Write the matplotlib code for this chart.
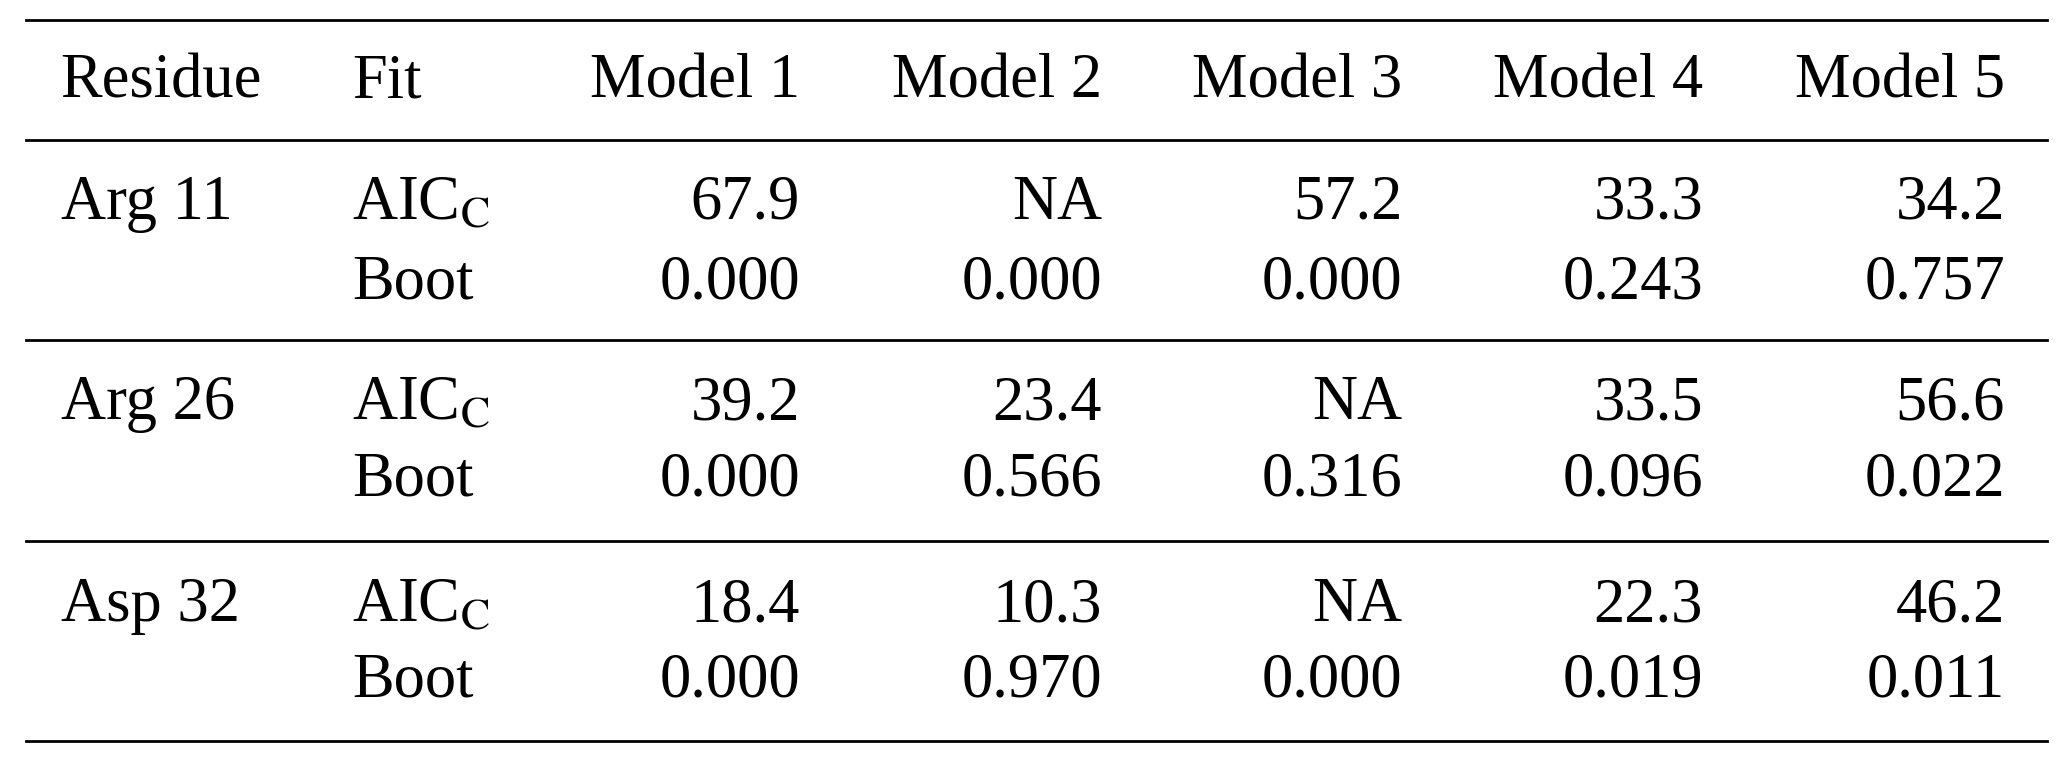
import matplotlib
matplotlib.use("Agg")
import matplotlib.pyplot as plt

header = ["Residue", "Fit", "Model 1", "Model 2", "Model 3", "Model 4", "Model 5"]
residues = ["Arg 11", "Arg 26", "Asp 32"]
aic = [["67.9", "NA", "57.2", "33.3", "34.2"],
       ["39.2", "23.4", "NA", "33.5", "56.6"],
       ["18.4", "10.3", "NA", "22.3", "46.2"]]
boot = [["0.000", "0.000", "0.000", "0.243", "0.757"],
        ["0.000", "0.566", "0.316", "0.096", "0.022"],
        ["0.000", "0.970", "0.000", "0.019", "0.011"]]

plt.rcParams['font.family'] = ['Liberation Serif', 'DejaVu Serif']
plt.rcParams['mathtext.fontset'] = 'stix'
W, H = 1568, 577
fig = plt.figure(figsize=(20.67, 7.61), dpi=100)
ax = fig.add_axes([0, 0, 1, 1])
ax.set_xlim(0, W); ax.set_ylim(H, 0); ax.axis('off')
fs = 45
off = 16
left_x = [46, 267]
right_x = [607, 836, 1064, 1292, 1521]

def t(x, y, s, ha):
    ax.text(x, y + off, s, fontsize=fs, va='baseline', ha=ha)

for y in [15, 106, 258, 410, 562]:
    ax.plot([20, 1553], [y, y], color='black', lw=2)
t(left_x[0], 58, header[0], 'left')
t(left_x[1], 58, header[1], 'left')
for x, h in zip(right_x, header[2:]):
    t(x, 58, h, 'right')
ys = [(150, 210), (302, 360), (455, 512)]
for i, (y1, y2) in enumerate(ys):
    t(left_x[0], y1, residues[i], 'left')
    t(left_x[1], y1, r'AIC$_\mathrm{C}$', 'left')
    t(left_x[1], y2, "Boot", 'left')
    for x, a, b in zip(right_x, aic[i], boot[i]):
        t(x, y1, a, 'right')
        t(x, y2, b, 'right')
fig.savefig("out.png", dpi=100)
